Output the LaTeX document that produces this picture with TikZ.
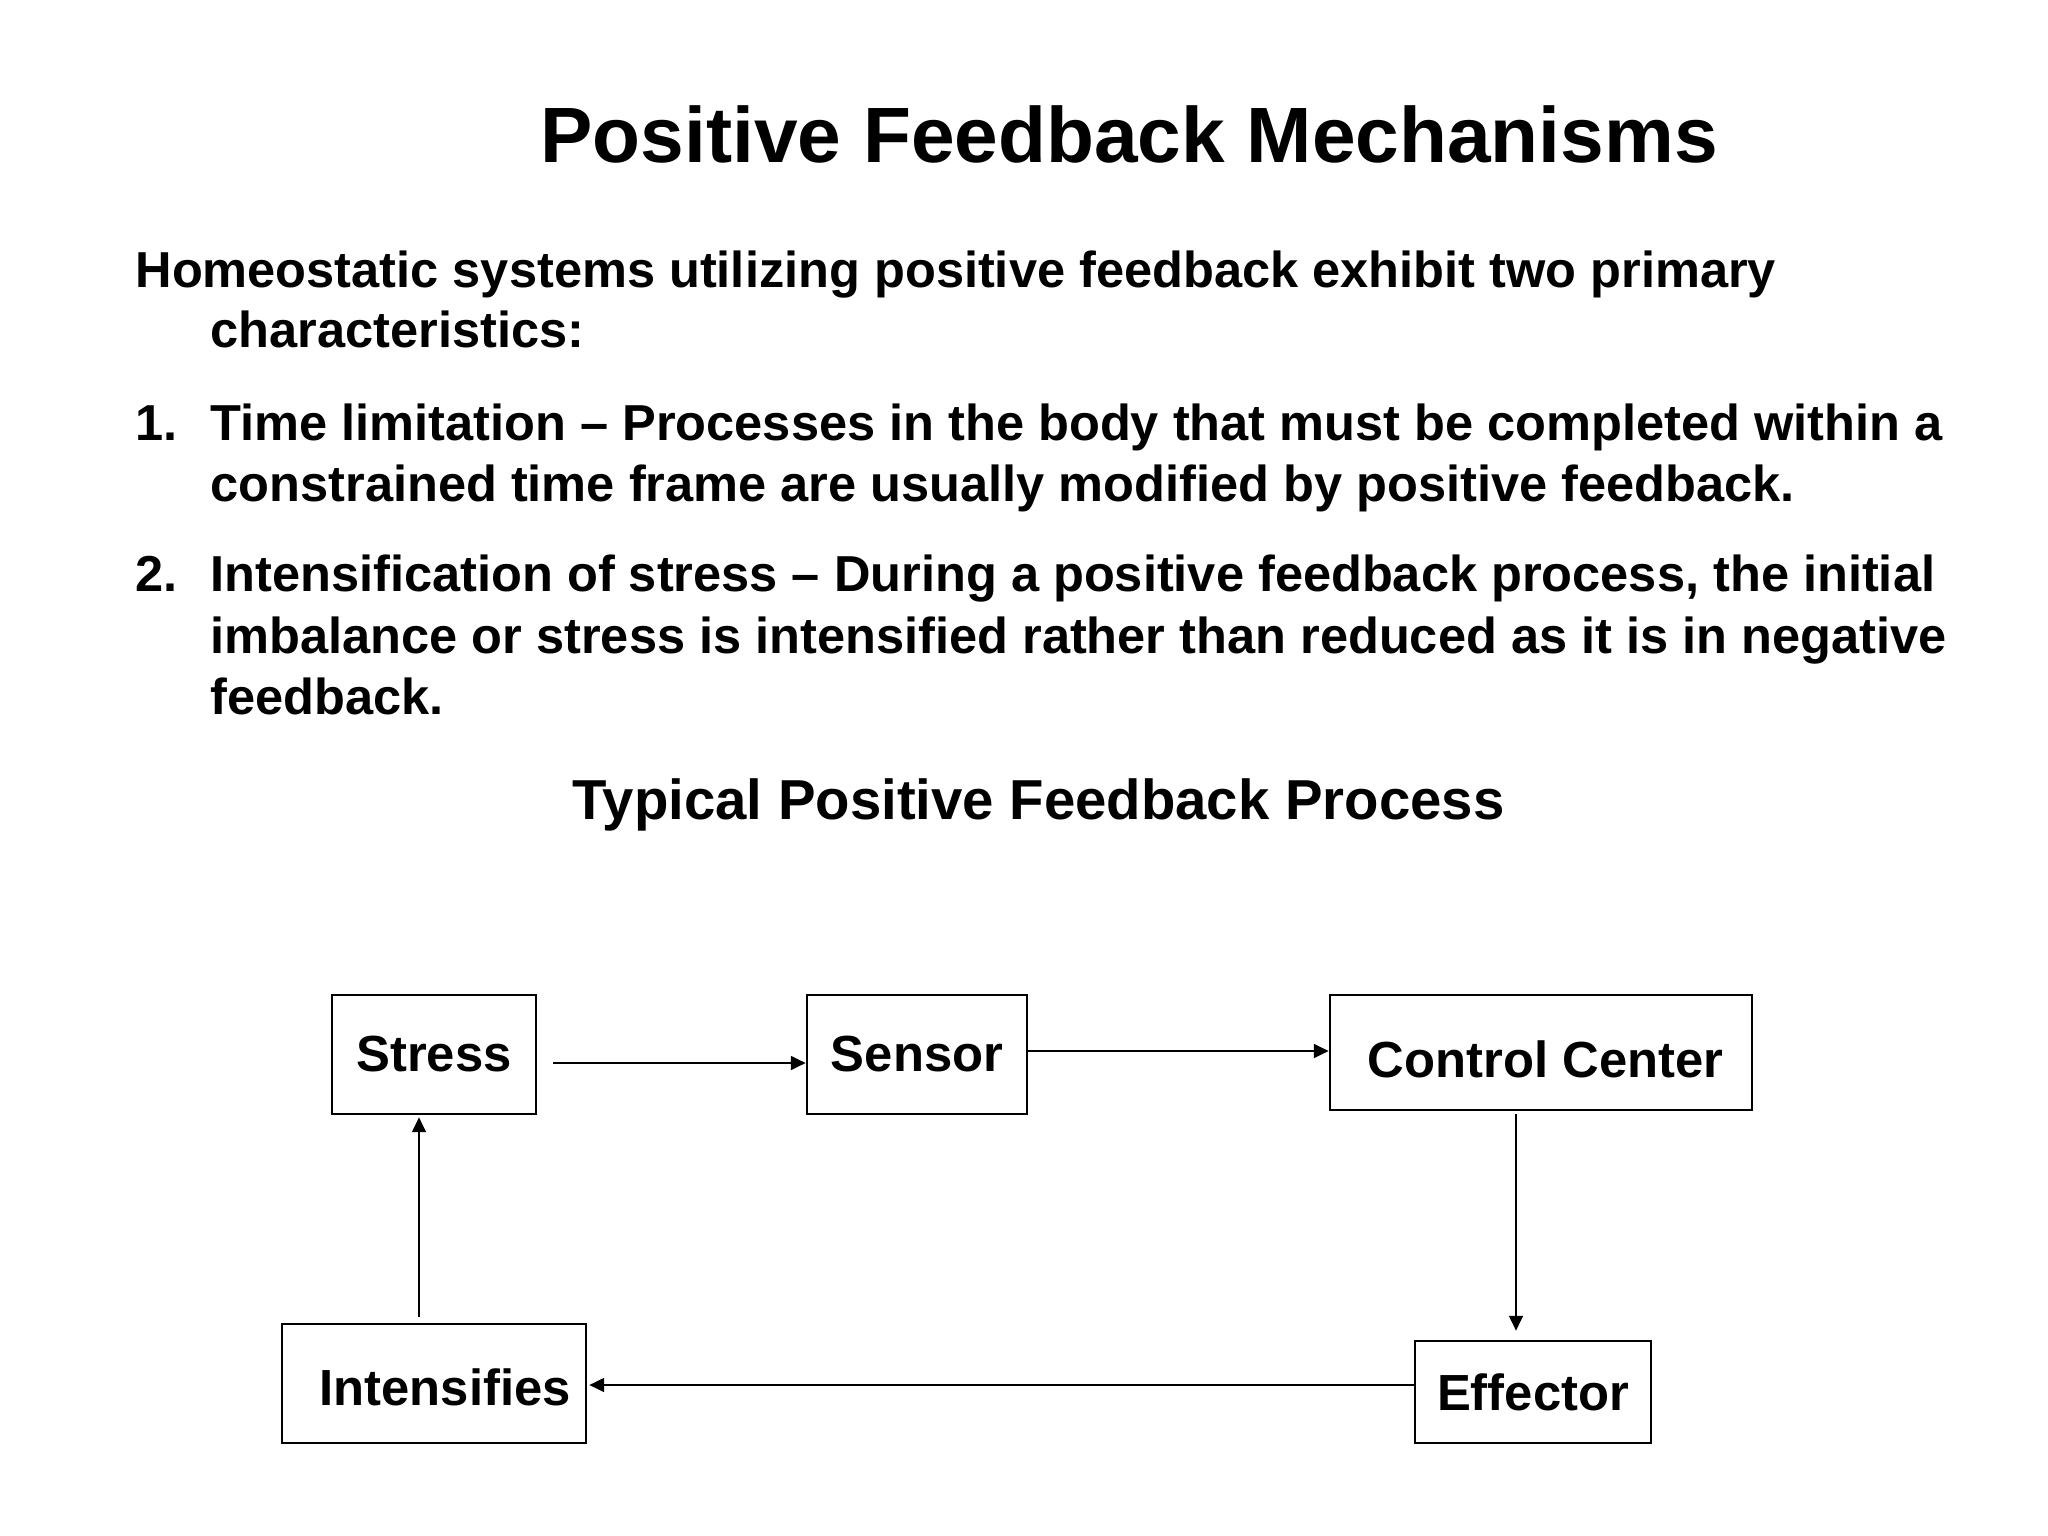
\documentclass[tikz,border=0pt]{standalone}
\usepackage{fontspec}
\setmainfont{Liberation Sans}[BoldFont={* Bold}]
\usetikzlibrary{arrows.meta,calc}
\tikzset{
  ttl/.style={anchor=base west,inner sep=0pt,font=\bfseries\fontsize{27.58pt}{32pt}\selectfont},
  body/.style={anchor=base west,inner sep=0pt,font=\bfseries\fontsize{17.77pt}{21.4pt}\selectfont},
  sub/.style={anchor=base west,inner sep=0pt,font=\bfseries\fontsize{19.8pt}{24pt}\selectfont},
  box/.style={draw=black,line width=0.9pt,fill=white,inner sep=0pt,font=\bfseries\fontsize{17.85pt}{21.4pt}\selectfont},
  arr/.style={draw=black,line width=0.8pt,-{Triangle[length=5.2pt,width=4.8pt]}}
}
\begin{document}
\begin{tikzpicture}[x=0.3515625pt,y=-0.3515625pt]
\useasboundingbox[fill=white] (0,0) rectangle (2048,1536);
% title
\node[ttl] (title) at (540,163) {Positive Feedback Mechanisms};
% intro paragraph
\node[body] (p1a) at (135,287.5) {Homeostatic systems utilizing positive feedback exhibit two primary};
\node[body] (p1b) at (210,347.6) {characteristics:};
% item 1
\node[body] (n1) at (135,441) {1.};
\node[body] (i1a) at (210,441) {Time limitation -- Processes in the body that must be completed within a};
\node[body] (i1b) at (210,501.7) {constrained time frame are usually modified by positive feedback.};
% item 2
\node[body] (n2) at (135,591.4) {2.};
\node[body] (i2a) at (210,591.4) {Intensification of stress -- During a positive feedback process, the initial};
\node[body] (i2b) at (210,653) {imbalance or stress is intensified rather than reduced as it is in negative};
\node[body] (i2c) at (210,714) {feedback.};
% subtitle
\node[sub] (sub) at (572,819) {Typical Positive Feedback Process};
% boxes
\node[box,minimum width=204*0.3515625pt,minimum height=119*0.3515625pt] (stress) at (434,1054.5) {Stress};
\node[box,minimum width=220*0.3515625pt,minimum height=119*0.3515625pt] (sensor) at (917,1054.5) {Sensor};
\node[box,minimum width=422*0.3515625pt,minimum height=115*0.3515625pt,text height=17.3pt,text depth=0pt] (control) at (1541,1052.5) {\hspace*{3.2pt}Control Center};
\node[box,minimum width=236*0.3515625pt,minimum height=102*0.3515625pt] (effector) at (1533,1392) {Effector};
\node[box,minimum width=304*0.3515625pt,minimum height=119*0.3515625pt,text height=15.5pt,text depth=0pt] (intens) at (434,1383.5) {\hspace*{7.8pt}Intensifies};
% connectors
\coordinate (a1) at ($(stress.east)+(16,8.5)$);
\draw[arr] (a1) -- (a1 -| sensor.west);
\coordinate (a2) at ($(sensor.east)+(0,-3.5)$);
\draw[arr] (a2) -- (a2 -| control.west);
\coordinate (a3) at ($(control.south)+(-25,3)$);
\draw[arr] (a3) -- ($(a3 |- effector.north)+(0,-9)$);
\coordinate (a4) at ($(effector.west)+(0,-7)$);
\draw[arr] (a4) -- ($(a4 -| intens.east)+(2,0)$);
\coordinate (a5) at ($(intens.north)+(-15,-6)$);
\draw[arr] (a5) -- ($(a5 |- stress.south)+(0,2)$);
\end{tikzpicture}
\end{document}
